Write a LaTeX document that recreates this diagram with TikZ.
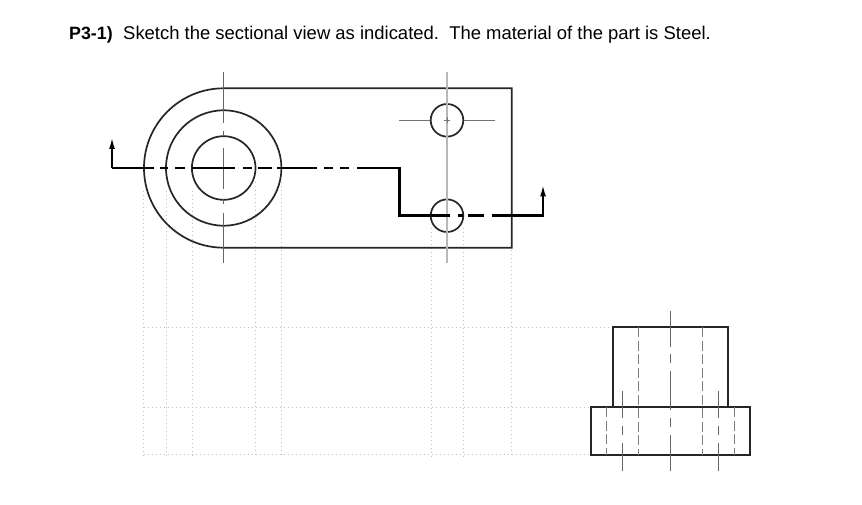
\documentclass[tikz,border=0pt]{standalone}
\usepackage{fontspec}
\setmainfont{Liberation Sans}
\usetikzlibrary{arrows.meta}
\tikzset{
  outline/.style={line width=1.7pt,color=black!85},
  hidden/.style={line width=1.5pt,color=black!50,dash pattern=on 10pt off 3.5pt},
  centre/.style={line width=1.1pt,color=black!60},
  paleaxis/.style={line width=1.1pt,color=black!28},
  fineaxis/.style={line width=.6pt,color=black!55},
  cutline/.style={line width=2.6pt,color=black,line cap=butt},
  cutarrow/.style={line width=1.4pt,color=black,-{Latex[length=11pt,width=6pt]}},
  projection/.style={line width=.9pt,color=black!25,dash pattern=on 1pt off 3pt},
  title/.style={inner sep=0pt,anchor=base west,font=\fontsize{18.45}{22}\selectfont}
}
\begin{document}
\begin{tikzpicture}[x=1pt,y=-1pt]
\useasboundingbox (0,0) rectangle (862,505);
\fill[white] (0,0) rectangle (862,505);
% title
\node[title,font=\fontsize{17.8}{22}\selectfont] (tag) at (69,39.5) {\textbf{P3-1)}};
\node[title] (task) at (123,39.5) {Sketch the sectional view as indicated.\ \ The material of the part is Steel.};
% key points
\coordinate (C) at (223.7,168);
\coordinate (H1) at (447,120.3);
\coordinate (H2) at (447,215.7);
% projection lines
\foreach \x in {143.7,166,192}{\draw[projection] (\x,191) -- (\x,457);}
\foreach \x in {255.5,281.5}{\draw[projection] (\x,182) -- (\x,457);}
\foreach \x in {431,463}{\draw[projection] (\x,228) -- (\x,457);}
\draw[projection] (511.7,250) -- (511.7,457);
\draw[projection] (143.7,327.3) -- (612.7,327.3);
\draw[projection] (143.7,407) -- (590.7,407);
\draw[projection] (143.7,454.7) -- (590.7,454.7);
% top view
\draw[outline] (223.7,247.7) -- (511.7,247.7) -- (511.7,88.3) -- (223.7,88.3) arc[start angle=-90,end angle=-270,radius=79.7];
\draw[outline] (C) circle[radius=57.7];
\draw[outline] (C) circle[radius=31.8];
\draw[outline] (H1) circle[radius=16.3];
\draw[outline] (H2) circle[radius=16.3];
% centre lines, top view
\foreach \a/\b in {72/123,131/136,148/189,199/204,213/263}{\draw[centre] (223.7,\a) -- (223.7,\b);}
\draw[paleaxis] (447,72) -- (447,263);
\draw[fineaxis] (399,120.3) -- (430,120.3);
\draw[fineaxis] (464,120.3) -- (495,120.3);
\draw[fineaxis] (444,120.3) -- (450,120.3);
\draw[fineaxis] (447,117.3) -- (447,123.3);
% cutting plane
\coordinate (cutA) at (112,168);
\coordinate (cutAtip) at (112,138);
\coordinate (cutB) at (543,215.7);
\coordinate (cutBtip) at (543,185.5);
\draw[cutarrow] (cutA) -- (cutAtip);
\draw[cutarrow] (cutB) -- (cutBtip);
\draw[cutline] (111.5,168) -- (154.3,168);
\foreach \a/\b in {160/168,175/185,192/235,243/252,258/272,277/317,324/333,340/349}{\draw[cutline] (\a,168) -- (\b,168);}
\draw[cutline,line join=miter] (357,168) -- (399.3,168) -- (399.3,215.7) -- (450,215.7);
\foreach \a/\b in {458/463,468/484}{\draw[cutline] (\a,215.7) -- (\b,215.7);}
\draw[cutline] (492,215.7) -- (543.5,215.7);
% front view
\draw[outline] (612.7,407) -- (612.7,327.3) -- (728,327.3) -- (728,407);
\draw[outline] (590.7,407) rectangle (750.3,454.7);
\draw[hidden] (638.6,327.3) -- (638.6,454.7);
\draw[hidden] (702.4,327.3) -- (702.4,454.7);
\draw[hidden] (606.5,407) -- (606.5,454.7);
\draw[hidden] (734.4,407) -- (734.4,454.7);
\foreach \a/\b in {311/347,354/363,371/410,418/427,435/471}{\draw[centre] (670.3,\a) -- (670.3,\b);}
\foreach \x in {622.3,718.3}{
  \foreach \a/\b in {391/418,426/435,443/471}{\draw[centre] (\x,\a) -- (\x,\b);}
}
\end{tikzpicture}
\end{document}
